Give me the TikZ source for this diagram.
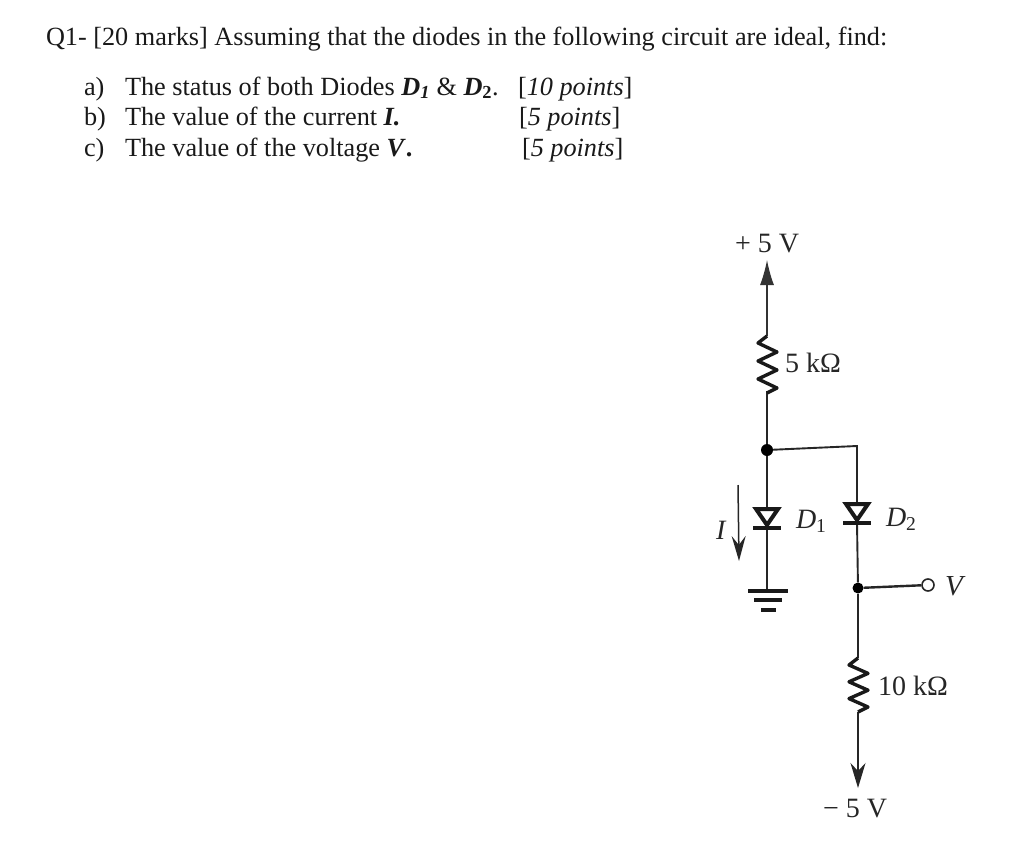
\documentclass[tikz,border=0pt]{standalone}
\usepackage{fontspec}
\setmainfont{Liberation Serif}
\usetikzlibrary{arrows.meta}
\tikzset{
  txt/.style={anchor=base west,inner sep=0pt,outer sep=0pt,font=\fontsize{26.25}{27}\selectfont,text=black!90},
  lab/.style={anchor=base west,inner sep=0pt,outer sep=0pt,font=\fontsize{28}{28}\selectfont,text=black!85},
  wire/.style={line width=1.9pt,black!85},
  res/.style={line width=3.4pt,black!90,line join=round},
  bar/.style={line width=4pt,black!90},
  tip/.style={-{Latex[length=25pt,width=14pt]},line width=1.5pt,black!80},
  dot/.style={circle,fill=black,inner sep=0pt,minimum size=12pt},
  term/.style={circle,draw=black!85,line width=1.6pt,fill=white,inner sep=0pt,minimum size=12pt}
}
\newcommand{\sawres}[3]{% centre x, top y, step
  \draw[res] (#1,#2) -- ++(-9,7) -- ++(19,#3) -- ++(-19,#3) -- ++(19,#3) -- ++(-19,#3) -- ++(19,#3) -- ++(-10,5);
}
\newcommand{\diode}[2]{% centre x, top y
  \draw[bar,line join=miter] (#1-11,#2+2) -- (#1+11,#2+2) -- (#1,#2+18) -- cycle;
  \draw[bar] (#1-14,#2+21) -- (#1+14,#2+21);
}
\begin{document}
\begin{tikzpicture}[x=1pt,y=-1pt]
\useasboundingbox (0,0) rectangle (1024,862);
% text
\node[txt] (title) at (46,45) {Q1- [20 marks] Assuming that the diodes in the following circuit are ideal, find:};
\node[txt] (aa) at (84,95) {a)};
\node[txt] (at) at (125,95) {The status of both Diodes \textbf{\textit{D\textsubscript{1}}} \& \textbf{\textit{D}}\textbf{\textsubscript{2}}.};
\node[txt] (ap) at (518,95) {[\textit{10 points}]};
\node[txt] (bb) at (84,125) {b)};
\node[txt] (bt) at (125,125) {The value of the current \textbf{\textit{I.}}};
\node[txt] (bp) at (519,125) {[\textit{5 points}]};
\node[txt] (cc) at (84,156) {c)};
\node[txt] (ct) at (125,156) {The value of the voltage \textbf{\textit{V}}\textbf{.}};
\node[txt] (cp) at (522,156) {[\textit{5 points}]};
% circuit points
\coordinate (vp) at (767,260);
\coordinate (r1t) at (767,336);
\coordinate (r1b) at (767,391);
\node[dot] (j1) at (767,450) {};
\coordinate (c1) at (857,446);
\coordinate (d1t) at (767,508);
\coordinate (d1b) at (767,527);
\coordinate (g) at (767,591);
\coordinate (d2t) at (857,504);
\coordinate (d2b) at (857,523);
\node[dot,minimum size=11pt] (j2) at (858,588) {};
\node[term] (vt) at (928,585) {};
\coordinate (r2t) at (858,658);
\coordinate (r2b) at (858,712);
\coordinate (vm) at (858,788);
\coordinate (i1) at (738,485);
\coordinate (i2) at (739,561);
% wires
\draw[tip,line width=1.2pt] (r1t) -- (vp);
\draw[wire,line width=2.2pt] (r1b) -- (j1);
\draw[wire] (j1) -- (c1) -- (d2t);
\draw[wire] (j1) -- (d1t);
\draw[wire] (d1b) -- (g);
\draw[wire] (d2b) -- (j2);
\draw[wire,line width=2.4pt] (j2) -- (vt);
\draw[wire] (j2) -- (r2t);
\draw[-{Stealth[length=25pt,width=15pt,inset=8pt]},line width=1.6pt,black!85] (r2b) -- (vm);
\draw[-{Stealth[length=25pt,width=14pt,inset=9pt]},line width=1.5pt,black!85] (i1) -- (i2);
% components
\sawres{767}{336}{9}
\sawres{858}{658}{8.4}
\diode{767}{507}
\diode{857}{502}
\draw[bar] (748,591) -- (788,591);
\draw[bar] (754,600) -- (782,600);
\draw[bar] (761,610) -- (776,610);
% labels
\node[lab] (lp) at (735,252) {+ 5 V};
\node[lab] (l5k) at (785,372) {5 kΩ};
\node[lab,font=\fontsize{28}{28}\selectfont\itshape] (lI) at (716,539) {I};
\node[lab,font=\fontsize{28}{28}\selectfont\itshape] (ld1) at (796,528) {D\textsubscript{\upshape 1}};
\node[lab,font=\fontsize{28}{28}\selectfont\itshape] (ld2) at (886,526) {D\textsubscript{\upshape 2}};
\node[lab,font=\fontsize{29}{29}\selectfont\itshape] (lV) at (945,595) {V};
\node[lab] (l10k) at (878,695) {10 kΩ};
\node[lab] (lm) at (823,817) {− 5 V};
\end{tikzpicture}
\end{document}
